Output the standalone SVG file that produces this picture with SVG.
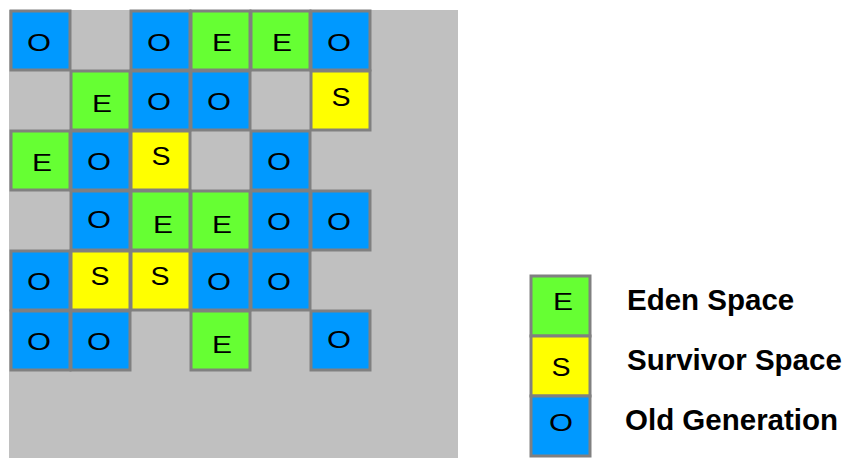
<svg xmlns="http://www.w3.org/2000/svg" width="855" height="469" viewBox="0 0 855 469">
<style>
.c{stroke:#808080;stroke-width:3}
.e{fill:#66FF33}.s{fill:#FFFF00}.o{fill:#0099FF}
.t{font-family:"Liberation Sans",Arial,sans-serif;font-size:24px;fill:#000;text-anchor:middle}
.ts{font-size:26px}
.l{font-family:"Liberation Sans",Arial,sans-serif;font-size:29.5px;font-weight:bold;fill:#000}
</style>
<rect x="9" y="10" width="449" height="448" fill="#C0C0C0"/>
<g id="grid">
<g id="r0c0"><rect class="c o" x="11" y="11" width="59" height="59"/><text class="t" x="39" y="51" textLength="24" lengthAdjust="spacingAndGlyphs">O</text></g>
<g id="r0c2"><rect class="c o" x="131" y="11" width="59" height="59"/><text class="t" x="159" y="51" textLength="24" lengthAdjust="spacingAndGlyphs">O</text></g>
<g id="r0c3"><rect class="c e" x="191" y="11" width="59" height="59"/><text class="t" x="222" y="51" textLength="20" lengthAdjust="spacingAndGlyphs">E</text></g>
<g id="r0c4"><rect class="c e" x="251" y="11" width="59" height="59"/><text class="t" x="282" y="51" textLength="20" lengthAdjust="spacingAndGlyphs">E</text></g>
<g id="r0c5"><rect class="c o" x="311" y="11" width="59" height="59"/><text class="t" x="339" y="51" textLength="24" lengthAdjust="spacingAndGlyphs">O</text></g>

<g id="r1c1"><rect class="c e" x="71" y="71" width="59" height="59"/><text class="t" x="102" y="112" textLength="20" lengthAdjust="spacingAndGlyphs">E</text></g>
<g id="r1c2"><rect class="c o" x="131" y="71" width="59" height="59"/><text class="t" x="159" y="110" textLength="24" lengthAdjust="spacingAndGlyphs">O</text></g>
<g id="r1c3"><rect class="c o" x="191" y="71" width="59" height="59"/><text class="t" x="219" y="110" textLength="24" lengthAdjust="spacingAndGlyphs">O</text></g>
<g id="r1c5"><rect class="c s" x="311" y="71" width="59" height="59"/><text class="t ts" x="341" y="106" textLength="19" lengthAdjust="spacingAndGlyphs">S</text></g>

<g id="r2c0"><rect class="c e" x="11" y="131" width="59" height="59"/><text class="t" x="42" y="171" textLength="20" lengthAdjust="spacingAndGlyphs">E</text></g>
<g id="r2c1"><rect class="c o" x="71" y="131" width="59" height="59"/><text class="t" x="99" y="170" textLength="24" lengthAdjust="spacingAndGlyphs">O</text></g>
<g id="r2c2"><rect class="c s" x="131" y="131" width="59" height="59"/><text class="t ts" x="161" y="165" textLength="19" lengthAdjust="spacingAndGlyphs">S</text></g>
<g id="r2c4"><rect class="c o" x="251" y="131" width="59" height="59"/><text class="t" x="279" y="170" textLength="24" lengthAdjust="spacingAndGlyphs">O</text></g>

<g id="r3c1"><rect class="c o" x="71" y="191" width="59" height="59"/><text class="t" x="99" y="228" textLength="24" lengthAdjust="spacingAndGlyphs">O</text></g>
<g id="r3c2"><rect class="c e" x="131" y="191" width="59" height="59"/><text class="t" x="163" y="233" textLength="20" lengthAdjust="spacingAndGlyphs">E</text></g>
<g id="r3c3"><rect class="c e" x="191" y="191" width="59" height="59"/><text class="t" x="222" y="233" textLength="20" lengthAdjust="spacingAndGlyphs">E</text></g>
<g id="r3c4"><rect class="c o" x="251" y="191" width="59" height="59"/><text class="t" x="279" y="230" textLength="24" lengthAdjust="spacingAndGlyphs">O</text></g>
<g id="r3c5"><rect class="c o" x="311" y="191" width="59" height="59"/><text class="t" x="339" y="230" textLength="24" lengthAdjust="spacingAndGlyphs">O</text></g>

<g id="r4c0"><rect class="c o" x="11" y="251" width="59" height="59"/><text class="t" x="39" y="290" textLength="24" lengthAdjust="spacingAndGlyphs">O</text></g>
<g id="r4c1"><rect class="c s" x="71" y="251" width="59" height="59"/><text class="t ts" x="100" y="285" textLength="19" lengthAdjust="spacingAndGlyphs">S</text></g>
<g id="r4c2"><rect class="c s" x="131" y="251" width="59" height="59"/><text class="t ts" x="160" y="285" textLength="19" lengthAdjust="spacingAndGlyphs">S</text></g>
<g id="r4c3"><rect class="c o" x="191" y="251" width="59" height="59"/><text class="t" x="219" y="290" textLength="24" lengthAdjust="spacingAndGlyphs">O</text></g>
<g id="r4c4"><rect class="c o" x="251" y="251" width="59" height="59"/><text class="t" x="279" y="290" textLength="24" lengthAdjust="spacingAndGlyphs">O</text></g>

<g id="r5c0"><rect class="c o" x="11" y="311" width="59" height="59"/><text class="t" x="39" y="350" textLength="24" lengthAdjust="spacingAndGlyphs">O</text></g>
<g id="r5c1"><rect class="c o" x="71" y="311" width="59" height="59"/><text class="t" x="99" y="350" textLength="24" lengthAdjust="spacingAndGlyphs">O</text></g>
<g id="r5c3"><rect class="c e" x="191" y="311" width="59" height="59"/><text class="t" x="222" y="353" textLength="20" lengthAdjust="spacingAndGlyphs">E</text></g>
<g id="r5c5"><rect class="c o" x="311" y="311" width="59" height="59"/><text class="t" x="339" y="348" textLength="24" lengthAdjust="spacingAndGlyphs">O</text></g>
</g>
<g id="legend">
<g id="leg-eden"><rect class="c e" x="531" y="276" width="59" height="60"/><text class="t" x="563" y="310" textLength="20" lengthAdjust="spacingAndGlyphs">E</text><text class="l" x="627" y="310">Eden Space</text></g>
<g id="leg-surv"><rect class="c s" x="531" y="336" width="59" height="60"/><text class="t ts" x="561" y="376" textLength="19" lengthAdjust="spacingAndGlyphs">S</text><text class="l" x="627" y="370">Survivor Space</text></g>
<g id="leg-old"><rect class="c o" x="531" y="396" width="59" height="60"/><text class="t" x="561" y="431" textLength="24" lengthAdjust="spacingAndGlyphs">O</text><text class="l" x="625" y="430">Old Generation</text></g>
</g>
<g id="connectors"/>
</svg>
